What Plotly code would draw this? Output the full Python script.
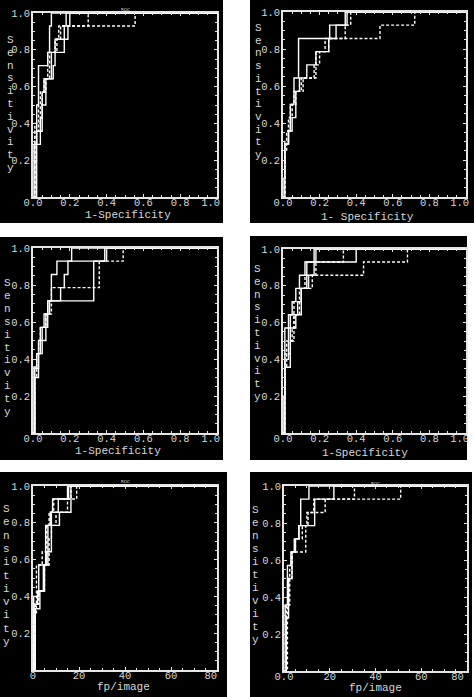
import plotly.graph_objects as go

W, H = 474, 697

# ---------------- data (fpr or fp/image, sensitivity) ----------------
p1_x = [
    [0, 0.0, 0.02, 0.03, 0.08, 0.08, 0.09, 0.10, 1.0],
    [0, 0.01, 0.04, 0.05, 0.07, 0.10, 0.17, 0.18, 1.0],
    [0, 0.01, 0.03, 0.05, 0.07, 0.08, 0.13, 0.14, 0.30, 1.0],
    [0, 0.01, 0.04, 0.06, 0.09, 0.12, 0.15, 0.555, 1.0],
    [0, 0.02, 0.05, 0.06, 0.11, 0.12, 0.19, 0.20, 1.0],
]
p1_y = [
    [0, 0.286, 0.5, 0.714, 0.714, 0.786, 0.929, 1.0, 1.0],
    [0, 0.286, 0.429, 0.5, 0.643, 0.786, 0.929, 1.0, 1.0],
    [0, 0.357, 0.5, 0.571, 0.643, 0.786, 0.857, 0.929, 1.0, 1.0],
    [0, 0.4, 0.571, 0.643, 0.786, 0.857, 0.929, 1.0, 1.0],
    [0, 0.357, 0.571, 0.643, 0.714, 0.857, 0.929, 1.0, 1.0],
]
p1_dash = ["solid", "solid", "dash", "dash", "solid"]

p2_x = [
    [0, 0.0, 0.01, 0.03, 0.04, 0.06, 0.085, 0.255, 0.34, 1.0],
    [0, 0.01, 0.03, 0.05, 0.07, 0.09, 0.13, 0.18, 0.25, 0.29, 0.35, 1.0],
    [0, 0.01, 0.02, 0.04, 0.06, 0.10, 0.17, 0.18, 0.23, 0.34, 0.37, 1.0],
    [0, 0.01, 0.03, 0.05, 0.07, 0.11, 0.18, 0.20, 0.25, 0.53, 0.72, 1.0],
]
p2_y = [
    [0, 0.1, 0.286, 0.357, 0.5, 0.643, 0.857, 0.929, 1.0, 1.0],
    [0, 0.286, 0.357, 0.429, 0.571, 0.643, 0.714, 0.786, 0.857, 0.929, 1.0, 1.0],
    [0, 0.25, 0.357, 0.5, 0.571, 0.643, 0.714, 0.786, 0.857, 0.929, 1.0, 1.0],
    [0, 0.3, 0.429, 0.5, 0.571, 0.643, 0.714, 0.786, 0.857, 0.929, 1.0, 1.0],
]
p2_dash = ["solid", "solid", "dash", "dash"]

p3_x = [
    [0, 0.005, 0.02, 0.04, 0.06, 0.08, 0.10, 0.13, 0.21, 1.0],
    [0, 0.01, 0.03, 0.05, 0.07, 0.09, 0.15, 0.17, 0.19, 0.39, 1.0],
    [0, 0.01, 0.03, 0.05, 0.08, 0.33, 0.40, 1.0],
    [0, 0.01, 0.02, 0.04, 0.07, 0.10, 0.35, 0.36, 0.49, 1.0],
]
p3_y = [
    [0, 0.357, 0.429, 0.571, 0.643, 0.714, 0.857, 0.929, 1.0, 1.0],
    [0, 0.3, 0.429, 0.5, 0.643, 0.714, 0.786, 0.857, 0.929, 1.0, 1.0],
    [0, 0.35, 0.5, 0.571, 0.714, 0.929, 1.0, 1.0],
    [0, 0.3, 0.429, 0.571, 0.643, 0.786, 0.786, 0.929, 1.0, 1.0],
]
p3_dash = ["solid", "solid", "solid", "dash"]

p4_x = [
    [0, 0.005, 0.01, 0.03, 0.05, 0.07, 0.09, 0.12, 0.17, 1.0],
    [0, 0.01, 0.03, 0.04, 0.08, 0.10, 0.13, 0.18, 1.0],
    [0, 0.01, 0.02, 0.05, 0.06, 0.09, 0.12, 0.17, 0.18, 0.33, 1.0],
    [0, 0.01, 0.04, 0.06, 0.09, 0.10, 0.13, 0.16, 0.44, 0.68, 1.0],
    [0, 0.01, 0.04, 0.07, 0.10, 0.14, 0.17, 0.40, 1.0],
]
p4_y = [
    [0, 0.2, 0.571, 0.643, 0.714, 0.786, 0.857, 0.929, 1.0, 1.0],
    [0, 0.4, 0.571, 0.643, 0.714, 0.786, 0.929, 1.0, 1.0],
    [0, 0.357, 0.5, 0.571, 0.714, 0.786, 0.857, 0.857, 0.929, 1.0, 1.0],
    [0, 0.429, 0.5, 0.643, 0.714, 0.786, 0.786, 0.857, 0.929, 1.0, 1.0],
    [0, 0.357, 0.571, 0.643, 0.786, 0.857, 0.929, 1.0, 1.0],
]
p4_dash = ["solid", "solid", "dash", "dash", "solid"]

p5_x = [
    [0, 0.3, 2.5, 5.5, 7.5, 8.5, 15.0, 80],
    [0, 0.5, 2.0, 4.5, 6.5, 8.0, 11.0, 15.5, 80],
    [0, 0.5, 1.5, 4.0, 6.0, 7.0, 9.0, 16.5, 80],
    [0, 1.0, 3.0, 5.0, 6.0, 8.0, 11.5, 16.5, 80],
    [0, 1.0, 2.5, 5.0, 7.0, 8.0, 10.0, 15.0, 19.0, 80],
]
p5_y = [
    [0, 0.4, 0.571, 0.786, 0.857, 0.929, 1.0, 1.0],
    [0, 0.357, 0.429, 0.571, 0.786, 0.857, 0.929, 1.0, 1.0],
    [0, 0.3, 0.571, 0.643, 0.786, 0.857, 0.929, 1.0, 1.0],
    [0, 0.333, 0.429, 0.571, 0.643, 0.786, 0.857, 1.0, 1.0],
    [0, 0.357, 0.429, 0.571, 0.714, 0.786, 0.857, 0.929, 1.0, 1.0],
]
p5_dash = ["solid", "solid", "dash", "solid", "dash"]

p6_x = [
    [0, 0.5, 1.5, 3.0, 5.0, 6.5, 7.3, 10.9, 80],
    [0, 1.0, 2.0, 3.5, 4.5, 6.5, 13.4, 21.8, 80],
    [0, 1.0, 2.0, 3.5, 5.0, 8.0, 10.0, 13.0, 18.0, 30.8, 80],
    [0, 1.5, 2.5, 3.5, 9.5, 10.5, 13.0, 51.0, 80],
]
p6_y = [
    [0, 0.357, 0.571, 0.643, 0.714, 0.786, 0.929, 1.0, 1.0],
    [0, 0.286, 0.5, 0.643, 0.714, 0.786, 0.929, 1.0, 1.0],
    [0, 0.357, 0.5, 0.643, 0.714, 0.786, 0.857, 0.857, 0.929, 1.0, 1.0],
    [0, 0.357, 0.571, 0.643, 0.786, 0.857, 0.929, 1.0, 1.0],
]
p6_dash = ["solid", "solid", "dash", "dash"]

NB = "\u00a0"
spec_ticks = [0, 0.2, 0.4, 0.6, 0.8, 1.0]
spec_ticktext = ["0.0", "0.2", "0.4", "0.6", "0.8", "1.0" + NB * 2]
fp_ticks = [0, 20, 40, 60, 80]
fp_ticktext_left = ["0", "20", "40", "60", "80" + NB * 2]
fp_ticktext_right = ["0.0", "20", "40", "60", "80" + NB * 3]
sens_ticks = [0.2, 0.4, 0.6, 0.8, 1.0]
sens_ticktext = ["0.2", "0.4", "0.6", "0.8", "1.0"]

x_titles = ["1-Specificity", "1- Specificity", "1-Specificity", "1-Specificity", "fp/image", "fp/image"]
y_title = "Sensitivity"

# ---------------- layout geometry (pixels) ----------------
panels = [
    dict(xs=p1_x, ys=p1_y, dash=p1_dash, plot=(33, 217, 13, 197), bg=(0, 223, 0, 223),
         xr=[0, 1], xt=spec_ticks, xtt=spec_ticktext, dx=0.05, title_xy=(128, 215), ylab=(10, 40, 168), roc=(125, 9)),
    dict(xs=p2_x, ys=p2_y, dash=p2_dash, plot=(283, 466, 12, 197), bg=(250, 474, 0, 223),
         xr=[0, 1], xt=spec_ticks, xtt=spec_ticktext, dx=0.05, title_xy=(367, 217), ylab=(258, 28, 155), roc=None),
    dict(xs=p3_x, ys=p3_y, dash=p3_dash, plot=(33, 217, 248, 433), bg=(0, 223, 237, 460),
         xr=[0, 1], xt=spec_ticks, xtt=spec_ticktext, dx=0.05, title_xy=(118, 451), ylab=(8, 283, 412), roc=None),
    dict(xs=p4_x, ys=p4_y, dash=p4_dash, plot=(283, 466, 249, 433), bg=(250, 467, 236, 460),
         xr=[0, 1], xt=spec_ticks, xtt=spec_ticktext, dx=0.05, title_xy=(365, 453), ylab=(257, 269, 397), roc=None),
    dict(xs=p5_x, ys=p5_y, dash=p5_dash, plot=(33, 217, 486, 670), bg=(0, 227, 472, 697),
         xr=[0, 80], xt=fp_ticks, xtt=fp_ticktext_left, dx=5, title_xy=(123, 687), ylab=(6, 509, 642), roc=(125, 481)),
    dict(xs=p6_x, ys=p6_y, dash=p6_dash, plot=(284, 467, 486, 671), bg=(250, 472, 472, 697),
         xr=[0, 80], xt=fp_ticks, xtt=fp_ticktext_right, dx=5, title_xy=(375, 688), ylab=(256, 510, 640), roc=(375, 483)),
]

FONT = "Liberation Mono, Courier New, monospace"
TXT = "#d9d9d9"
FS = 10.5

fig = go.Figure()
shapes = []
annotations = []
layout_axes = {}


def px(x):
    return x / W


def py(y):
    return 1 - y / H


for i, p in enumerate(panels, start=1):
    xa = "x" if i == 1 else f"x{i}"
    ya = "y" if i == 1 else f"y{i}"
    xkey = "xaxis" if i == 1 else f"xaxis{i}"
    ykey = "yaxis" if i == 1 else f"yaxis{i}"
    x0, x1, y0, y1 = p["plot"]
    bx0, bx1, by0, by1 = p["bg"]
    shapes.append(dict(type="rect", xref="paper", yref="paper", x0=px(bx0), x1=px(bx1),
                       y0=py(by1), y1=py(by0), fillcolor="black", line=dict(width=0), layer="below"))
    for xs, ys, d in zip(p["xs"], p["ys"], p["dash"]):
        fig.add_trace(go.Scatter(x=xs, y=ys, mode="lines", line_shape="hv", xaxis=xa, yaxis=ya,
                                 line=dict(color="white", width=1.4, dash="solid" if d == "solid" else "3px,2px"),
                                 showlegend=False, hoverinfo="skip"))
    axcommon = dict(showgrid=False, zeroline=False, showline=True, linecolor="#e6e6e6", linewidth=1.5,
                    mirror="ticks", ticks="inside", ticklen=3, tickcolor="#e6e6e6", tickwidth=1,
                    automargin=False, ticklabeloverflow="allow",
                    tickfont=dict(family=FONT, size=FS, color=TXT), fixedrange=True)
    layout_axes[xkey] = dict(axcommon, domain=[px(x0), px(x1)], anchor=ya, range=p["xr"],
                             tickmode="array", tickvals=p["xt"], ticktext=p["xtt"], ticklabelstandoff=-5,
                             minor=dict(dtick=p["dx"], ticks="inside", ticklen=2, tickcolor="#e6e6e6", tick0=0))
    layout_axes[ykey] = dict(axcommon, domain=[py(y1), py(y0)], anchor=xa, range=[0, 1],
                             tickmode="array", tickvals=sens_ticks, ticktext=sens_ticktext, ticklabelstandoff=-1,
                             minor=dict(dtick=0.05, ticks="inside", ticklen=2, tickcolor="#e6e6e6", tick0=0))
    tx, ty = p["title_xy"]
    annotations.append(dict(text=x_titles[i - 1], xref="paper", yref="paper", x=px(tx), y=py(ty),
                            xanchor="center", yanchor="middle", showarrow=False,
                            font=dict(family=FONT, size=FS + 0.5, color=TXT)))
    lx, ly0, ly1 = p["ylab"]
    n = len(y_title)
    for k, ch in enumerate(y_title):
        yy = ly0 + (ly1 - ly0) * k / (n - 1)
        annotations.append(dict(text=ch, xref="paper", yref="paper", x=px(lx), y=py(yy),
                                xanchor="center", yanchor="middle", showarrow=False,
                                font=dict(family=FONT, size=FS + 0.5, color=TXT)))
    if p["roc"]:
        rx, ry = p["roc"]
        annotations.append(dict(text="ROC", xref="paper", yref="paper", x=px(rx), y=py(ry),
                                xanchor="center", yanchor="middle", showarrow=False,
                                font=dict(family="DejaVu Sans", size=4, color=TXT)))

fig.update_layout(width=W, height=H, margin=dict(l=0, r=0, t=0, b=0),
                  paper_bgcolor="white", plot_bgcolor="black", showlegend=False,
                  shapes=shapes, annotations=annotations, **layout_axes)

fig.write_html("out.html", config={"displayModeBar": False},
               post_script="document.body.style.margin='0';document.body.style.padding='0';"
                           "document.body.style.overflow='hidden';")
